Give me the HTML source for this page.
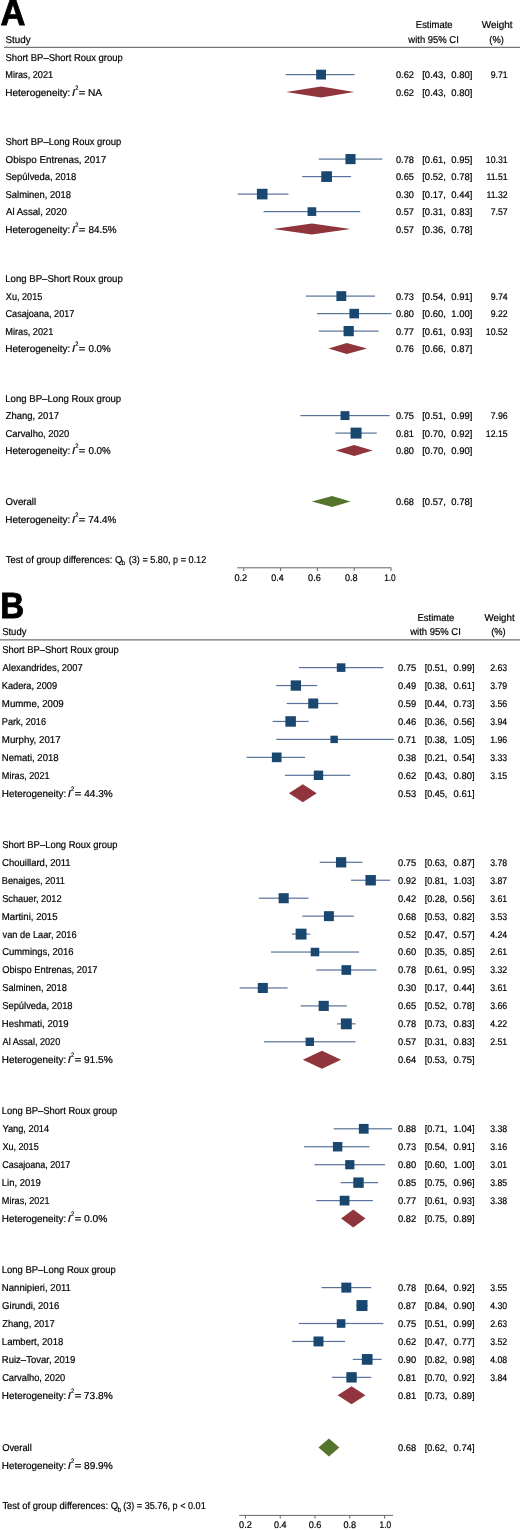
<!DOCTYPE html>
<html lang="en"><head><meta charset="utf-8"><title>Forest plots</title>
<style>
html,body{margin:0;padding:0;background:#fff;}
svg{display:block;}
text{font-family:"Liberation Sans",sans-serif;fill:#000;stroke:#000;stroke-width:0.2px;text-rendering:geometricPrecision;}
</style></head>
<body>
<svg width="520" height="1530" viewBox="0 0 520 1530" font-size="10.0">
<rect width="520" height="1530" fill="#fff"/>
<text x="0.44" y="25.00" textLength="24.93" lengthAdjust="spacingAndGlyphs" font-size="36.5" font-weight="bold" style="stroke-width:0.9px">A</text>
<text x="5.56" y="42.50" textLength="25.16" lengthAdjust="spacingAndGlyphs">Study</text>
<text x="415.84" y="28.30" textLength="36.74" lengthAdjust="spacingAndGlyphs">Estimate</text>
<text x="408.35" y="42.50" textLength="50.46" lengthAdjust="spacingAndGlyphs">with 95% CI</text>
<text x="481.80" y="28.30" textLength="30.74" lengthAdjust="spacingAndGlyphs">Weight</text>
<text x="489.34" y="42.50" textLength="14.52" lengthAdjust="spacingAndGlyphs">(%)</text>
<rect x="4.0" y="46.80" width="516.0" height="1.0" fill="#555"/>
<text x="5.57" y="60.80" textLength="117.22" lengthAdjust="spacingAndGlyphs">Short BP–Short Roux group</text>
<text x="5.27" y="78.30" textLength="47.84" lengthAdjust="spacingAndGlyphs">Miras, 2021</text>
<rect x="285.62" y="74.00" width="69.08" height="1.2" fill="#58739a"/>
<rect x="316.17" y="69.69" width="9.82" height="9.82" fill="#1a476f"/>
<text x="395.98" y="78.30" textLength="17.95" lengthAdjust="spacingAndGlyphs" font-size="9.6">0.62</text>
<text x="422.24" y="78.30" textLength="23.69" lengthAdjust="spacingAndGlyphs" font-size="9.6">[0.43,</text>
<text x="451.37" y="78.30" textLength="20.98" lengthAdjust="spacingAndGlyphs" font-size="9.6">0.80]</text>
<text x="490.66" y="78.30" textLength="17.00" lengthAdjust="spacingAndGlyphs" font-size="9.6">9.71</text>
<text x="5.20" y="95.80" textLength="65.09" lengthAdjust="spacingAndGlyphs">Heterogeneity:</text>
<text x="71.91" y="95.80" textLength="3.07" lengthAdjust="spacingAndGlyphs" font-style="italic">I</text>
<text x="75.32" y="89.70" textLength="3.14" lengthAdjust="spacingAndGlyphs" font-size="6.6">2</text>
<text x="78.89" y="95.80" textLength="6.55" lengthAdjust="spacingAndGlyphs">=</text>
<text x="87.98" y="95.80" textLength="14.16" lengthAdjust="spacingAndGlyphs">NA</text>
<polygon points="286.12,92.10 321.08,86.60 354.20,92.10 321.08,97.60" fill="#90353b"/>
<text x="395.98" y="95.80" textLength="17.95" lengthAdjust="spacingAndGlyphs" font-size="9.6">0.62</text>
<text x="422.24" y="95.80" textLength="23.69" lengthAdjust="spacingAndGlyphs" font-size="9.6">[0.43,</text>
<text x="451.37" y="95.80" textLength="20.98" lengthAdjust="spacingAndGlyphs" font-size="9.6">0.80]</text>
<text x="5.57" y="145.30" textLength="115.61" lengthAdjust="spacingAndGlyphs">Short BP–Long Roux group</text>
<text x="5.56" y="162.80" textLength="100.68" lengthAdjust="spacingAndGlyphs">Obispo Entrenas, 2017</text>
<rect x="318.74" y="158.50" width="63.56" height="1.2" fill="#58739a"/>
<rect x="345.46" y="154.04" width="10.11" height="10.11" fill="#1a476f"/>
<text x="395.98" y="162.80" textLength="17.95" lengthAdjust="spacingAndGlyphs" font-size="9.6">0.78</text>
<text x="422.24" y="162.80" textLength="23.69" lengthAdjust="spacingAndGlyphs" font-size="9.6">[0.61,</text>
<text x="451.37" y="162.80" textLength="20.98" lengthAdjust="spacingAndGlyphs" font-size="9.6">0.95]</text>
<text x="485.81" y="162.80" textLength="21.85" lengthAdjust="spacingAndGlyphs" font-size="9.6">10.31</text>
<text x="5.58" y="180.30" textLength="70.61" lengthAdjust="spacingAndGlyphs">Sepúlveda, 2018</text>
<rect x="302.18" y="176.00" width="48.84" height="1.2" fill="#58739a"/>
<rect x="321.26" y="171.26" width="10.69" height="10.69" fill="#1a476f"/>
<text x="395.98" y="180.30" textLength="17.95" lengthAdjust="spacingAndGlyphs" font-size="9.6">0.65</text>
<text x="422.24" y="180.30" textLength="23.69" lengthAdjust="spacingAndGlyphs" font-size="9.6">[0.52,</text>
<text x="451.37" y="180.30" textLength="20.98" lengthAdjust="spacingAndGlyphs" font-size="9.6">0.78]</text>
<text x="486.45" y="180.30" textLength="21.21" lengthAdjust="spacingAndGlyphs" font-size="9.6">11.51</text>
<text x="5.58" y="197.80" textLength="65.29" lengthAdjust="spacingAndGlyphs">Salminen, 2018</text>
<rect x="237.78" y="193.50" width="50.68" height="1.2" fill="#58739a"/>
<rect x="256.90" y="188.80" width="10.60" height="10.60" fill="#1a476f"/>
<text x="395.98" y="197.80" textLength="17.95" lengthAdjust="spacingAndGlyphs" font-size="9.6">0.30</text>
<text x="422.24" y="197.80" textLength="23.69" lengthAdjust="spacingAndGlyphs" font-size="9.6">[0.17,</text>
<text x="451.37" y="197.80" textLength="20.98" lengthAdjust="spacingAndGlyphs" font-size="9.6">0.44]</text>
<text x="486.45" y="197.80" textLength="21.21" lengthAdjust="spacingAndGlyphs" font-size="9.6">11.32</text>
<text x="6.00" y="215.30" textLength="60.86" lengthAdjust="spacingAndGlyphs">Al Assal, 2020</text>
<rect x="263.54" y="211.00" width="96.68" height="1.2" fill="#58739a"/>
<rect x="307.55" y="207.27" width="8.67" height="8.67" fill="#1a476f"/>
<text x="395.98" y="215.30" textLength="17.95" lengthAdjust="spacingAndGlyphs" font-size="9.6">0.57</text>
<text x="422.24" y="215.30" textLength="23.69" lengthAdjust="spacingAndGlyphs" font-size="9.6">[0.31,</text>
<text x="451.37" y="215.30" textLength="20.98" lengthAdjust="spacingAndGlyphs" font-size="9.6">0.83]</text>
<text x="490.66" y="215.30" textLength="17.00" lengthAdjust="spacingAndGlyphs" font-size="9.6">7.57</text>
<text x="5.20" y="232.80" textLength="65.09" lengthAdjust="spacingAndGlyphs">Heterogeneity:</text>
<text x="71.91" y="232.80" textLength="3.07" lengthAdjust="spacingAndGlyphs" font-style="italic">I</text>
<text x="75.32" y="226.70" textLength="3.14" lengthAdjust="spacingAndGlyphs" font-size="6.6">2</text>
<text x="78.89" y="232.80" textLength="6.55" lengthAdjust="spacingAndGlyphs">=</text>
<text x="88.40" y="232.80" textLength="28.05" lengthAdjust="spacingAndGlyphs">84.5%</text>
<polygon points="273.24,229.10 311.88,223.60 350.52,229.10 311.88,234.60" fill="#90353b"/>
<text x="395.98" y="232.80" textLength="17.95" lengthAdjust="spacingAndGlyphs" font-size="9.6">0.57</text>
<text x="422.24" y="232.80" textLength="23.69" lengthAdjust="spacingAndGlyphs" font-size="9.6">[0.36,</text>
<text x="451.37" y="232.80" textLength="20.98" lengthAdjust="spacingAndGlyphs" font-size="9.6">0.78]</text>
<text x="5.23" y="282.30" textLength="117.56" lengthAdjust="spacingAndGlyphs">Long BP–Short Roux group</text>
<text x="5.82" y="299.80" textLength="36.48" lengthAdjust="spacingAndGlyphs">Xu, 2015</text>
<rect x="305.86" y="295.50" width="69.08" height="1.2" fill="#58739a"/>
<rect x="336.40" y="291.18" width="9.83" height="9.83" fill="#1a476f"/>
<text x="395.98" y="299.80" textLength="17.95" lengthAdjust="spacingAndGlyphs" font-size="9.6">0.73</text>
<text x="422.24" y="299.80" textLength="23.69" lengthAdjust="spacingAndGlyphs" font-size="9.6">[0.54,</text>
<text x="451.37" y="299.80" textLength="20.98" lengthAdjust="spacingAndGlyphs" font-size="9.6">0.91]</text>
<text x="490.66" y="299.80" textLength="17.00" lengthAdjust="spacingAndGlyphs" font-size="9.6">9.74</text>
<text x="5.55" y="317.30" textLength="68.78" lengthAdjust="spacingAndGlyphs">Casajoana, 2017</text>
<rect x="316.90" y="313.00" width="74.60" height="1.2" fill="#58739a"/>
<rect x="349.42" y="308.82" width="9.56" height="9.56" fill="#1a476f"/>
<text x="395.98" y="317.30" textLength="17.95" lengthAdjust="spacingAndGlyphs" font-size="9.6">0.80</text>
<text x="422.24" y="317.30" textLength="23.69" lengthAdjust="spacingAndGlyphs" font-size="9.6">[0.60,</text>
<text x="451.37" y="317.30" textLength="20.98" lengthAdjust="spacingAndGlyphs" font-size="9.6">1.00]</text>
<text x="490.66" y="317.30" textLength="17.00" lengthAdjust="spacingAndGlyphs" font-size="9.6">9.22</text>
<text x="5.26" y="334.80" textLength="48.05" lengthAdjust="spacingAndGlyphs">Miras, 2021</text>
<rect x="318.74" y="330.50" width="59.88" height="1.2" fill="#58739a"/>
<rect x="343.57" y="325.99" width="10.22" height="10.22" fill="#1a476f"/>
<text x="395.98" y="334.80" textLength="17.95" lengthAdjust="spacingAndGlyphs" font-size="9.6">0.77</text>
<text x="422.24" y="334.80" textLength="23.69" lengthAdjust="spacingAndGlyphs" font-size="9.6">[0.61,</text>
<text x="451.37" y="334.80" textLength="20.98" lengthAdjust="spacingAndGlyphs" font-size="9.6">0.93]</text>
<text x="485.81" y="334.80" textLength="21.85" lengthAdjust="spacingAndGlyphs" font-size="9.6">10.52</text>
<text x="5.20" y="352.30" textLength="65.09" lengthAdjust="spacingAndGlyphs">Heterogeneity:</text>
<text x="71.91" y="352.30" textLength="3.07" lengthAdjust="spacingAndGlyphs" font-style="italic">I</text>
<text x="75.32" y="346.20" textLength="3.14" lengthAdjust="spacingAndGlyphs" font-size="6.6">2</text>
<text x="78.89" y="352.30" textLength="6.55" lengthAdjust="spacingAndGlyphs">=</text>
<text x="88.46" y="352.30" textLength="22.28" lengthAdjust="spacingAndGlyphs">0.0%</text>
<polygon points="328.44,348.60 346.84,343.10 367.08,348.60 346.84,354.10" fill="#90353b"/>
<text x="395.98" y="352.30" textLength="17.95" lengthAdjust="spacingAndGlyphs" font-size="9.6">0.76</text>
<text x="422.24" y="352.30" textLength="23.69" lengthAdjust="spacingAndGlyphs" font-size="9.6">[0.66,</text>
<text x="451.37" y="352.30" textLength="20.98" lengthAdjust="spacingAndGlyphs" font-size="9.6">0.87]</text>
<text x="5.23" y="401.80" textLength="115.96" lengthAdjust="spacingAndGlyphs">Long BP–Long Roux group</text>
<text x="5.72" y="419.30" textLength="53.22" lengthAdjust="spacingAndGlyphs">Zhang, 2017</text>
<rect x="300.34" y="415.00" width="89.32" height="1.2" fill="#58739a"/>
<rect x="340.56" y="411.16" width="8.89" height="8.89" fill="#1a476f"/>
<text x="395.98" y="419.30" textLength="17.95" lengthAdjust="spacingAndGlyphs" font-size="9.6">0.75</text>
<text x="422.24" y="419.30" textLength="23.69" lengthAdjust="spacingAndGlyphs" font-size="9.6">[0.51,</text>
<text x="451.37" y="419.30" textLength="20.98" lengthAdjust="spacingAndGlyphs" font-size="9.6">0.99]</text>
<text x="490.66" y="419.30" textLength="17.00" lengthAdjust="spacingAndGlyphs" font-size="9.6">7.96</text>
<text x="5.53" y="436.80" textLength="63.72" lengthAdjust="spacingAndGlyphs">Carvalho, 2020</text>
<rect x="335.30" y="432.50" width="41.48" height="1.2" fill="#58739a"/>
<rect x="350.55" y="427.61" width="10.98" height="10.98" fill="#1a476f"/>
<text x="395.98" y="436.80" textLength="17.95" lengthAdjust="spacingAndGlyphs" font-size="9.6">0.81</text>
<text x="422.24" y="436.80" textLength="23.69" lengthAdjust="spacingAndGlyphs" font-size="9.6">[0.70,</text>
<text x="451.37" y="436.80" textLength="20.98" lengthAdjust="spacingAndGlyphs" font-size="9.6">0.92]</text>
<text x="485.81" y="436.80" textLength="21.85" lengthAdjust="spacingAndGlyphs" font-size="9.6">12.15</text>
<text x="5.20" y="454.30" textLength="65.09" lengthAdjust="spacingAndGlyphs">Heterogeneity:</text>
<text x="71.91" y="454.30" textLength="3.07" lengthAdjust="spacingAndGlyphs" font-style="italic">I</text>
<text x="75.32" y="448.20" textLength="3.14" lengthAdjust="spacingAndGlyphs" font-size="6.6">2</text>
<text x="78.89" y="454.30" textLength="6.55" lengthAdjust="spacingAndGlyphs">=</text>
<text x="88.46" y="454.30" textLength="22.28" lengthAdjust="spacingAndGlyphs">0.0%</text>
<polygon points="335.80,450.60 354.20,445.10 372.60,450.60 354.20,456.10" fill="#90353b"/>
<text x="395.98" y="454.30" textLength="17.95" lengthAdjust="spacingAndGlyphs" font-size="9.6">0.80</text>
<text x="422.24" y="454.30" textLength="23.69" lengthAdjust="spacingAndGlyphs" font-size="9.6">[0.70,</text>
<text x="451.37" y="454.30" textLength="20.98" lengthAdjust="spacingAndGlyphs" font-size="9.6">0.90]</text>
<text x="5.57" y="505.20" textLength="30.54" lengthAdjust="spacingAndGlyphs">Overall</text>
<polygon points="311.88,501.50 332.12,496.00 350.52,501.50 332.12,507.00" fill="#55752f"/>
<text x="395.98" y="505.20" textLength="17.95" lengthAdjust="spacingAndGlyphs" font-size="9.6">0.68</text>
<text x="422.24" y="505.20" textLength="23.69" lengthAdjust="spacingAndGlyphs" font-size="9.6">[0.57,</text>
<text x="451.37" y="505.20" textLength="20.98" lengthAdjust="spacingAndGlyphs" font-size="9.6">0.78]</text>
<text x="5.20" y="522.70" textLength="65.09" lengthAdjust="spacingAndGlyphs">Heterogeneity:</text>
<text x="71.91" y="522.70" textLength="3.07" lengthAdjust="spacingAndGlyphs" font-style="italic">I</text>
<text x="75.32" y="516.60" textLength="3.14" lengthAdjust="spacingAndGlyphs" font-size="6.6">2</text>
<text x="78.89" y="522.70" textLength="6.55" lengthAdjust="spacingAndGlyphs">=</text>
<text x="88.30" y="522.70" textLength="28.15" lengthAdjust="spacingAndGlyphs">74.4%</text>
<text x="5.81" y="562.70" textLength="116.53" lengthAdjust="spacingAndGlyphs">Test of group differences: Q</text>
<text x="121.60" y="565.30" textLength="3.67" lengthAdjust="spacingAndGlyphs" font-size="7.0">b</text>
<text x="128.75" y="562.70" textLength="77.46" lengthAdjust="spacingAndGlyphs">(3) = 5.80, p = 0.12</text>
<rect x="237.10" y="567.30" width="154.20" height="1" fill="#666"/>
<rect x="243.30" y="567.80" width="1" height="3.2" fill="#666"/>
<text x="234.48" y="580.60" textLength="12.73" lengthAdjust="spacingAndGlyphs" font-size="9.6">0.2</text>
<rect x="280.10" y="567.80" width="1" height="3.2" fill="#666"/>
<text x="271.28" y="580.60" textLength="12.54" lengthAdjust="spacingAndGlyphs" font-size="9.6">0.4</text>
<rect x="316.90" y="567.80" width="1" height="3.2" fill="#666"/>
<text x="308.08" y="580.60" textLength="12.69" lengthAdjust="spacingAndGlyphs" font-size="9.6">0.6</text>
<rect x="353.70" y="567.80" width="1" height="3.2" fill="#666"/>
<text x="344.88" y="580.60" textLength="12.69" lengthAdjust="spacingAndGlyphs" font-size="9.6">0.8</text>
<rect x="390.50" y="567.80" width="1" height="3.2" fill="#666"/>
<text x="384.18" y="580.60" textLength="11.51" lengthAdjust="spacingAndGlyphs" font-size="9.6">1.0</text>
<text x="0.14" y="617.50" textLength="23.96" lengthAdjust="spacingAndGlyphs" font-size="36.5" font-weight="bold" style="stroke-width:0.9px">B</text>
<text x="2.17" y="634.60" textLength="24.25" lengthAdjust="spacingAndGlyphs">Study</text>
<text x="417.44" y="620.70" textLength="36.94" lengthAdjust="spacingAndGlyphs">Estimate</text>
<text x="410.25" y="635.00" textLength="50.56" lengthAdjust="spacingAndGlyphs">with 95% CI</text>
<text x="484.50" y="620.70" textLength="30.14" lengthAdjust="spacingAndGlyphs">Weight</text>
<text x="491.14" y="635.00" textLength="14.63" lengthAdjust="spacingAndGlyphs">(%)</text>
<rect x="0" y="639.10" width="520" height="1.5" fill="#8a8a8a"/>
<text x="2.18" y="653.05" textLength="116.61" lengthAdjust="spacingAndGlyphs">Short BP–Short Roux group</text>
<text x="2.60" y="671.00" textLength="80.04" lengthAdjust="spacingAndGlyphs">Alexandrides, 2007</text>
<rect x="298.84" y="667.00" width="84.52" height="1.2" fill="#58739a"/>
<rect x="336.80" y="663.30" width="8.60" height="8.60" fill="#1a476f"/>
<text x="397.97" y="671.00" textLength="18.16" lengthAdjust="spacingAndGlyphs" font-size="9.6">0.75</text>
<text x="424.67" y="671.00" textLength="22.62" lengthAdjust="spacingAndGlyphs" font-size="9.6">[0.51,</text>
<text x="453.57" y="671.00" textLength="20.98" lengthAdjust="spacingAndGlyphs" font-size="9.6">0.99]</text>
<text x="490.16" y="671.00" textLength="17.00" lengthAdjust="spacingAndGlyphs" font-size="9.6">2.63</text>
<text x="1.87" y="688.95" textLength="55.15" lengthAdjust="spacingAndGlyphs">Kadera, 2009</text>
<rect x="276.22" y="684.95" width="41.02" height="1.2" fill="#58739a"/>
<rect x="290.70" y="680.39" width="10.32" height="10.32" fill="#1a476f"/>
<text x="397.97" y="688.95" textLength="18.16" lengthAdjust="spacingAndGlyphs" font-size="9.6">0.49</text>
<text x="424.67" y="688.95" textLength="22.62" lengthAdjust="spacingAndGlyphs" font-size="9.6">[0.38,</text>
<text x="453.57" y="688.95" textLength="20.98" lengthAdjust="spacingAndGlyphs" font-size="9.6">0.61]</text>
<text x="490.16" y="688.95" textLength="17.00" lengthAdjust="spacingAndGlyphs" font-size="9.6">3.79</text>
<text x="1.83" y="706.90" textLength="61.83" lengthAdjust="spacingAndGlyphs">Mumme, 2009</text>
<rect x="286.66" y="702.90" width="51.46" height="1.2" fill="#58739a"/>
<rect x="308.26" y="698.50" width="10.00" height="10.00" fill="#1a476f"/>
<text x="397.97" y="706.90" textLength="18.16" lengthAdjust="spacingAndGlyphs" font-size="9.6">0.59</text>
<text x="424.67" y="706.90" textLength="22.62" lengthAdjust="spacingAndGlyphs" font-size="9.6">[0.44,</text>
<text x="453.57" y="706.90" textLength="20.98" lengthAdjust="spacingAndGlyphs" font-size="9.6">0.73]</text>
<text x="490.16" y="706.90" textLength="17.00" lengthAdjust="spacingAndGlyphs" font-size="9.6">3.56</text>
<text x="1.87" y="724.85" textLength="44.11" lengthAdjust="spacingAndGlyphs">Park, 2016</text>
<rect x="272.74" y="720.85" width="35.80" height="1.2" fill="#58739a"/>
<rect x="285.38" y="716.19" width="10.52" height="10.52" fill="#1a476f"/>
<text x="397.97" y="724.85" textLength="18.16" lengthAdjust="spacingAndGlyphs" font-size="9.6">0.46</text>
<text x="424.67" y="724.85" textLength="22.62" lengthAdjust="spacingAndGlyphs" font-size="9.6">[0.36,</text>
<text x="453.57" y="724.85" textLength="20.98" lengthAdjust="spacingAndGlyphs" font-size="9.6">0.56]</text>
<text x="490.16" y="724.85" textLength="17.00" lengthAdjust="spacingAndGlyphs" font-size="9.6">3.94</text>
<text x="1.82" y="742.80" textLength="58.82" lengthAdjust="spacingAndGlyphs">Murphy, 2017</text>
<rect x="276.22" y="738.80" width="117.58" height="1.2" fill="#58739a"/>
<rect x="330.43" y="735.69" width="7.42" height="7.42" fill="#1a476f"/>
<text x="397.97" y="742.80" textLength="18.16" lengthAdjust="spacingAndGlyphs" font-size="9.6">0.71</text>
<text x="424.67" y="742.80" textLength="22.62" lengthAdjust="spacingAndGlyphs" font-size="9.6">[0.38,</text>
<text x="453.57" y="742.80" textLength="20.98" lengthAdjust="spacingAndGlyphs" font-size="9.6">1.05]</text>
<text x="490.16" y="742.80" textLength="17.00" lengthAdjust="spacingAndGlyphs" font-size="9.6">1.96</text>
<text x="1.84" y="760.75" textLength="56.77" lengthAdjust="spacingAndGlyphs">Nemati, 2018</text>
<rect x="246.64" y="756.75" width="58.42" height="1.2" fill="#58739a"/>
<rect x="271.88" y="752.51" width="9.67" height="9.67" fill="#1a476f"/>
<text x="397.97" y="760.75" textLength="18.16" lengthAdjust="spacingAndGlyphs" font-size="9.6">0.38</text>
<text x="424.67" y="760.75" textLength="22.62" lengthAdjust="spacingAndGlyphs" font-size="9.6">[0.21,</text>
<text x="453.57" y="760.75" textLength="20.98" lengthAdjust="spacingAndGlyphs" font-size="9.6">0.54]</text>
<text x="490.16" y="760.75" textLength="17.00" lengthAdjust="spacingAndGlyphs" font-size="9.6">3.33</text>
<text x="1.87" y="778.70" textLength="47.74" lengthAdjust="spacingAndGlyphs">Miras, 2021</text>
<rect x="284.92" y="774.70" width="65.38" height="1.2" fill="#58739a"/>
<rect x="313.78" y="770.60" width="9.41" height="9.41" fill="#1a476f"/>
<text x="397.97" y="778.70" textLength="18.16" lengthAdjust="spacingAndGlyphs" font-size="9.6">0.62</text>
<text x="424.67" y="778.70" textLength="22.62" lengthAdjust="spacingAndGlyphs" font-size="9.6">[0.43,</text>
<text x="453.57" y="778.70" textLength="20.98" lengthAdjust="spacingAndGlyphs" font-size="9.6">0.80]</text>
<text x="490.16" y="778.70" textLength="17.00" lengthAdjust="spacingAndGlyphs" font-size="9.6">3.15</text>
<text x="1.81" y="796.65" textLength="64.48" lengthAdjust="spacingAndGlyphs">Heterogeneity:</text>
<text x="67.71" y="796.65" textLength="3.07" lengthAdjust="spacingAndGlyphs" font-style="italic">I</text>
<text x="71.12" y="790.55" textLength="3.14" lengthAdjust="spacingAndGlyphs" font-size="6.6">2</text>
<text x="74.89" y="796.65" textLength="6.55" lengthAdjust="spacingAndGlyphs">=</text>
<text x="84.20" y="796.65" textLength="28.56" lengthAdjust="spacingAndGlyphs">44.3%</text>
<polygon points="288.90,793.25 302.82,784.25 316.74,793.25 302.82,802.25" fill="#90353b"/>
<text x="397.97" y="796.65" textLength="18.16" lengthAdjust="spacingAndGlyphs" font-size="9.6">0.53</text>
<text x="424.67" y="796.65" textLength="22.62" lengthAdjust="spacingAndGlyphs" font-size="9.6">[0.45,</text>
<text x="453.57" y="796.65" textLength="20.98" lengthAdjust="spacingAndGlyphs" font-size="9.6">0.61]</text>
<text x="2.18" y="847.75" textLength="115.31" lengthAdjust="spacingAndGlyphs">Short BP–Long Roux group</text>
<text x="2.12" y="865.70" textLength="68.49" lengthAdjust="spacingAndGlyphs">Chouillard, 2011</text>
<rect x="319.72" y="861.70" width="42.76" height="1.2" fill="#58739a"/>
<rect x="335.95" y="857.15" width="10.30" height="10.30" fill="#1a476f"/>
<text x="397.97" y="865.70" textLength="18.16" lengthAdjust="spacingAndGlyphs" font-size="9.6">0.75</text>
<text x="424.67" y="865.70" textLength="22.62" lengthAdjust="spacingAndGlyphs" font-size="9.6">[0.63,</text>
<text x="453.57" y="865.70" textLength="20.98" lengthAdjust="spacingAndGlyphs" font-size="9.6">0.87]</text>
<text x="490.16" y="865.70" textLength="17.00" lengthAdjust="spacingAndGlyphs" font-size="9.6">3.78</text>
<text x="1.87" y="883.65" textLength="63.06" lengthAdjust="spacingAndGlyphs">Benaiges, 2011</text>
<rect x="351.04" y="879.65" width="39.28" height="1.2" fill="#58739a"/>
<rect x="365.47" y="875.04" width="10.43" height="10.43" fill="#1a476f"/>
<text x="397.97" y="883.65" textLength="18.16" lengthAdjust="spacingAndGlyphs" font-size="9.6">0.92</text>
<text x="424.67" y="883.65" textLength="22.62" lengthAdjust="spacingAndGlyphs" font-size="9.6">[0.81,</text>
<text x="453.57" y="883.65" textLength="20.98" lengthAdjust="spacingAndGlyphs" font-size="9.6">1.03]</text>
<text x="490.16" y="883.65" textLength="17.00" lengthAdjust="spacingAndGlyphs" font-size="9.6">3.87</text>
<text x="2.19" y="901.60" textLength="59.43" lengthAdjust="spacingAndGlyphs">Schauer, 2012</text>
<rect x="258.82" y="897.60" width="49.72" height="1.2" fill="#58739a"/>
<rect x="278.64" y="893.17" width="10.07" height="10.07" fill="#1a476f"/>
<text x="397.97" y="901.60" textLength="18.16" lengthAdjust="spacingAndGlyphs" font-size="9.6">0.42</text>
<text x="424.67" y="901.60" textLength="22.62" lengthAdjust="spacingAndGlyphs" font-size="9.6">[0.28,</text>
<text x="453.57" y="901.60" textLength="20.98" lengthAdjust="spacingAndGlyphs" font-size="9.6">0.56]</text>
<text x="490.16" y="901.60" textLength="17.00" lengthAdjust="spacingAndGlyphs" font-size="9.6">3.61</text>
<text x="1.83" y="919.55" textLength="55.77" lengthAdjust="spacingAndGlyphs">Martini, 2015</text>
<rect x="302.32" y="915.55" width="51.46" height="1.2" fill="#58739a"/>
<rect x="323.94" y="911.17" width="9.96" height="9.96" fill="#1a476f"/>
<text x="397.97" y="919.55" textLength="18.16" lengthAdjust="spacingAndGlyphs" font-size="9.6">0.68</text>
<text x="424.67" y="919.55" textLength="22.62" lengthAdjust="spacingAndGlyphs" font-size="9.6">[0.53,</text>
<text x="453.57" y="919.55" textLength="20.98" lengthAdjust="spacingAndGlyphs" font-size="9.6">0.82]</text>
<text x="490.16" y="919.55" textLength="17.00" lengthAdjust="spacingAndGlyphs" font-size="9.6">3.53</text>
<text x="2.60" y="937.50" textLength="73.99" lengthAdjust="spacingAndGlyphs">van de Laar, 2016</text>
<rect x="291.88" y="933.50" width="18.40" height="1.2" fill="#58739a"/>
<rect x="295.62" y="928.64" width="10.91" height="10.91" fill="#1a476f"/>
<text x="397.97" y="937.50" textLength="18.16" lengthAdjust="spacingAndGlyphs" font-size="9.6">0.52</text>
<text x="424.67" y="937.50" textLength="22.62" lengthAdjust="spacingAndGlyphs" font-size="9.6">[0.47,</text>
<text x="453.57" y="937.50" textLength="20.98" lengthAdjust="spacingAndGlyphs" font-size="9.6">0.57]</text>
<text x="490.16" y="937.50" textLength="17.00" lengthAdjust="spacingAndGlyphs" font-size="9.6">4.24</text>
<text x="2.13" y="955.45" textLength="71.44" lengthAdjust="spacingAndGlyphs">Cummings, 2016</text>
<rect x="271.00" y="951.45" width="88.00" height="1.2" fill="#58739a"/>
<rect x="310.72" y="947.77" width="8.56" height="8.56" fill="#1a476f"/>
<text x="397.97" y="955.45" textLength="18.16" lengthAdjust="spacingAndGlyphs" font-size="9.6">0.60</text>
<text x="424.67" y="955.45" textLength="22.62" lengthAdjust="spacingAndGlyphs" font-size="9.6">[0.35,</text>
<text x="453.57" y="955.45" textLength="20.98" lengthAdjust="spacingAndGlyphs" font-size="9.6">0.85]</text>
<text x="490.16" y="955.45" textLength="17.00" lengthAdjust="spacingAndGlyphs" font-size="9.6">2.61</text>
<text x="2.18" y="973.40" textLength="95.33" lengthAdjust="spacingAndGlyphs">Obispo Entrenas, 2017</text>
<rect x="316.24" y="969.40" width="60.16" height="1.2" fill="#58739a"/>
<rect x="341.49" y="965.17" width="9.66" height="9.66" fill="#1a476f"/>
<text x="397.97" y="973.40" textLength="18.16" lengthAdjust="spacingAndGlyphs" font-size="9.6">0.78</text>
<text x="424.67" y="973.40" textLength="22.62" lengthAdjust="spacingAndGlyphs" font-size="9.6">[0.61,</text>
<text x="453.57" y="973.40" textLength="20.98" lengthAdjust="spacingAndGlyphs" font-size="9.6">0.95]</text>
<text x="490.16" y="973.40" textLength="17.00" lengthAdjust="spacingAndGlyphs" font-size="9.6">3.32</text>
<text x="2.18" y="991.35" textLength="64.69" lengthAdjust="spacingAndGlyphs">Salminen, 2018</text>
<rect x="239.68" y="987.35" width="47.98" height="1.2" fill="#58739a"/>
<rect x="257.76" y="982.92" width="10.07" height="10.07" fill="#1a476f"/>
<text x="397.97" y="991.35" textLength="18.16" lengthAdjust="spacingAndGlyphs" font-size="9.6">0.30</text>
<text x="424.67" y="991.35" textLength="22.62" lengthAdjust="spacingAndGlyphs" font-size="9.6">[0.17,</text>
<text x="453.57" y="991.35" textLength="20.98" lengthAdjust="spacingAndGlyphs" font-size="9.6">0.44]</text>
<text x="490.16" y="991.35" textLength="17.00" lengthAdjust="spacingAndGlyphs" font-size="9.6">3.61</text>
<text x="2.18" y="1009.30" textLength="70.41" lengthAdjust="spacingAndGlyphs">Sepúlveda, 2018</text>
<rect x="300.58" y="1005.30" width="46.24" height="1.2" fill="#58739a"/>
<rect x="318.63" y="1000.83" width="10.14" height="10.14" fill="#1a476f"/>
<text x="397.97" y="1009.30" textLength="18.16" lengthAdjust="spacingAndGlyphs" font-size="9.6">0.65</text>
<text x="424.67" y="1009.30" textLength="22.62" lengthAdjust="spacingAndGlyphs" font-size="9.6">[0.52,</text>
<text x="453.57" y="1009.30" textLength="20.98" lengthAdjust="spacingAndGlyphs" font-size="9.6">0.78]</text>
<text x="490.16" y="1009.30" textLength="17.00" lengthAdjust="spacingAndGlyphs" font-size="9.6">3.66</text>
<text x="1.84" y="1027.25" textLength="66.78" lengthAdjust="spacingAndGlyphs">Heshmati, 2019</text>
<rect x="337.12" y="1023.25" width="18.40" height="1.2" fill="#58739a"/>
<rect x="340.88" y="1018.41" width="10.89" height="10.89" fill="#1a476f"/>
<text x="397.97" y="1027.25" textLength="18.16" lengthAdjust="spacingAndGlyphs" font-size="9.6">0.78</text>
<text x="424.67" y="1027.25" textLength="22.62" lengthAdjust="spacingAndGlyphs" font-size="9.6">[0.73,</text>
<text x="453.57" y="1027.25" textLength="20.98" lengthAdjust="spacingAndGlyphs" font-size="9.6">0.83]</text>
<text x="490.16" y="1027.25" textLength="17.00" lengthAdjust="spacingAndGlyphs" font-size="9.6">4.22</text>
<text x="2.60" y="1045.20" textLength="57.64" lengthAdjust="spacingAndGlyphs">Al Assal, 2020</text>
<rect x="264.04" y="1041.20" width="91.48" height="1.2" fill="#58739a"/>
<rect x="305.58" y="1037.60" width="8.40" height="8.40" fill="#1a476f"/>
<text x="397.97" y="1045.20" textLength="18.16" lengthAdjust="spacingAndGlyphs" font-size="9.6">0.57</text>
<text x="424.67" y="1045.20" textLength="22.62" lengthAdjust="spacingAndGlyphs" font-size="9.6">[0.31,</text>
<text x="453.57" y="1045.20" textLength="20.98" lengthAdjust="spacingAndGlyphs" font-size="9.6">0.83]</text>
<text x="490.16" y="1045.20" textLength="17.00" lengthAdjust="spacingAndGlyphs" font-size="9.6">2.51</text>
<text x="1.81" y="1063.15" textLength="64.48" lengthAdjust="spacingAndGlyphs">Heterogeneity:</text>
<text x="67.71" y="1063.15" textLength="3.07" lengthAdjust="spacingAndGlyphs" font-style="italic">I</text>
<text x="71.12" y="1057.05" textLength="3.14" lengthAdjust="spacingAndGlyphs" font-size="6.6">2</text>
<text x="74.89" y="1063.15" textLength="6.55" lengthAdjust="spacingAndGlyphs">=</text>
<text x="83.94" y="1063.15" textLength="28.82" lengthAdjust="spacingAndGlyphs">91.5%</text>
<polygon points="302.82,1059.75 321.96,1050.75 341.10,1059.75 321.96,1068.75" fill="#90353b"/>
<text x="397.97" y="1063.15" textLength="18.16" lengthAdjust="spacingAndGlyphs" font-size="9.6">0.64</text>
<text x="424.67" y="1063.15" textLength="22.62" lengthAdjust="spacingAndGlyphs" font-size="9.6">[0.53,</text>
<text x="453.57" y="1063.15" textLength="20.98" lengthAdjust="spacingAndGlyphs" font-size="9.6">0.75]</text>
<text x="1.85" y="1114.25" textLength="115.34" lengthAdjust="spacingAndGlyphs">Long BP–Short Roux group</text>
<text x="2.41" y="1132.20" textLength="46.73" lengthAdjust="spacingAndGlyphs">Yang, 2014</text>
<rect x="333.64" y="1128.20" width="58.42" height="1.2" fill="#58739a"/>
<rect x="358.85" y="1123.93" width="9.74" height="9.74" fill="#1a476f"/>
<text x="397.97" y="1132.20" textLength="18.16" lengthAdjust="spacingAndGlyphs" font-size="9.6">0.88</text>
<text x="424.67" y="1132.20" textLength="22.62" lengthAdjust="spacingAndGlyphs" font-size="9.6">[0.71,</text>
<text x="453.57" y="1132.20" textLength="20.98" lengthAdjust="spacingAndGlyphs" font-size="9.6">1.04]</text>
<text x="490.16" y="1132.20" textLength="17.00" lengthAdjust="spacingAndGlyphs" font-size="9.6">3.38</text>
<text x="2.42" y="1150.15" textLength="36.28" lengthAdjust="spacingAndGlyphs">Xu, 2015</text>
<rect x="304.06" y="1146.15" width="65.38" height="1.2" fill="#58739a"/>
<rect x="332.91" y="1142.04" width="9.42" height="9.42" fill="#1a476f"/>
<text x="397.97" y="1150.15" textLength="18.16" lengthAdjust="spacingAndGlyphs" font-size="9.6">0.73</text>
<text x="424.67" y="1150.15" textLength="22.62" lengthAdjust="spacingAndGlyphs" font-size="9.6">[0.54,</text>
<text x="453.57" y="1150.15" textLength="20.98" lengthAdjust="spacingAndGlyphs" font-size="9.6">0.91]</text>
<text x="490.16" y="1150.15" textLength="17.00" lengthAdjust="spacingAndGlyphs" font-size="9.6">3.16</text>
<text x="2.15" y="1168.10" textLength="68.17" lengthAdjust="spacingAndGlyphs">Casajoana, 2017</text>
<rect x="314.50" y="1164.10" width="70.60" height="1.2" fill="#58739a"/>
<rect x="345.20" y="1160.10" width="9.20" height="9.20" fill="#1a476f"/>
<text x="397.97" y="1168.10" textLength="18.16" lengthAdjust="spacingAndGlyphs" font-size="9.6">0.80</text>
<text x="424.67" y="1168.10" textLength="22.62" lengthAdjust="spacingAndGlyphs" font-size="9.6">[0.60,</text>
<text x="453.57" y="1168.10" textLength="20.98" lengthAdjust="spacingAndGlyphs" font-size="9.6">1.00]</text>
<text x="490.16" y="1168.10" textLength="17.00" lengthAdjust="spacingAndGlyphs" font-size="9.6">3.01</text>
<text x="1.84" y="1186.05" textLength="38.88" lengthAdjust="spacingAndGlyphs">Lin, 2019</text>
<rect x="340.60" y="1182.05" width="37.54" height="1.2" fill="#58739a"/>
<rect x="353.30" y="1177.45" width="10.40" height="10.40" fill="#1a476f"/>
<text x="397.97" y="1186.05" textLength="18.16" lengthAdjust="spacingAndGlyphs" font-size="9.6">0.85</text>
<text x="424.67" y="1186.05" textLength="22.62" lengthAdjust="spacingAndGlyphs" font-size="9.6">[0.75,</text>
<text x="453.57" y="1186.05" textLength="20.98" lengthAdjust="spacingAndGlyphs" font-size="9.6">0.96]</text>
<text x="490.16" y="1186.05" textLength="17.00" lengthAdjust="spacingAndGlyphs" font-size="9.6">3.85</text>
<text x="1.87" y="1204.00" textLength="47.74" lengthAdjust="spacingAndGlyphs">Miras, 2021</text>
<rect x="316.24" y="1200.00" width="56.68" height="1.2" fill="#58739a"/>
<rect x="339.71" y="1195.73" width="9.74" height="9.74" fill="#1a476f"/>
<text x="397.97" y="1204.00" textLength="18.16" lengthAdjust="spacingAndGlyphs" font-size="9.6">0.77</text>
<text x="424.67" y="1204.00" textLength="22.62" lengthAdjust="spacingAndGlyphs" font-size="9.6">[0.61,</text>
<text x="453.57" y="1204.00" textLength="20.98" lengthAdjust="spacingAndGlyphs" font-size="9.6">0.93]</text>
<text x="490.16" y="1204.00" textLength="17.00" lengthAdjust="spacingAndGlyphs" font-size="9.6">3.38</text>
<text x="1.81" y="1221.95" textLength="64.48" lengthAdjust="spacingAndGlyphs">Heterogeneity:</text>
<text x="67.71" y="1221.95" textLength="3.07" lengthAdjust="spacingAndGlyphs" font-style="italic">I</text>
<text x="71.12" y="1215.85" textLength="3.14" lengthAdjust="spacingAndGlyphs" font-size="6.6">2</text>
<text x="74.89" y="1221.95" textLength="6.55" lengthAdjust="spacingAndGlyphs">=</text>
<text x="84.04" y="1221.95" textLength="23.41" lengthAdjust="spacingAndGlyphs">0.0%</text>
<polygon points="341.10,1218.55 353.28,1209.55 365.46,1218.55 353.28,1227.55" fill="#90353b"/>
<text x="397.97" y="1221.95" textLength="18.16" lengthAdjust="spacingAndGlyphs" font-size="9.6">0.82</text>
<text x="424.67" y="1221.95" textLength="22.62" lengthAdjust="spacingAndGlyphs" font-size="9.6">[0.75,</text>
<text x="453.57" y="1221.95" textLength="20.98" lengthAdjust="spacingAndGlyphs" font-size="9.6">0.89]</text>
<text x="1.84" y="1273.05" textLength="113.94" lengthAdjust="spacingAndGlyphs">Long BP–Long Roux group</text>
<text x="1.83" y="1291.00" textLength="69.09" lengthAdjust="spacingAndGlyphs">Nannipieri, 2011</text>
<rect x="321.46" y="1287.00" width="49.72" height="1.2" fill="#58739a"/>
<rect x="341.33" y="1282.61" width="9.99" height="9.99" fill="#1a476f"/>
<text x="397.97" y="1291.00" textLength="18.16" lengthAdjust="spacingAndGlyphs" font-size="9.6">0.78</text>
<text x="424.67" y="1291.00" textLength="22.62" lengthAdjust="spacingAndGlyphs" font-size="9.6">[0.64,</text>
<text x="453.57" y="1291.00" textLength="20.98" lengthAdjust="spacingAndGlyphs" font-size="9.6">0.92]</text>
<text x="490.16" y="1291.00" textLength="17.00" lengthAdjust="spacingAndGlyphs" font-size="9.6">3.55</text>
<text x="2.12" y="1308.95" textLength="57.15" lengthAdjust="spacingAndGlyphs">Girundi, 2016</text>
<rect x="356.26" y="1304.95" width="11.44" height="1.2" fill="#58739a"/>
<rect x="356.48" y="1300.05" width="10.99" height="10.99" fill="#1a476f"/>
<text x="397.97" y="1308.95" textLength="18.16" lengthAdjust="spacingAndGlyphs" font-size="9.6">0.87</text>
<text x="424.67" y="1308.95" textLength="22.62" lengthAdjust="spacingAndGlyphs" font-size="9.6">[0.84,</text>
<text x="453.57" y="1308.95" textLength="20.98" lengthAdjust="spacingAndGlyphs" font-size="9.6">0.90]</text>
<text x="490.16" y="1308.95" textLength="17.00" lengthAdjust="spacingAndGlyphs" font-size="9.6">4.30</text>
<text x="2.32" y="1326.90" textLength="52.31" lengthAdjust="spacingAndGlyphs">Zhang, 2017</text>
<rect x="298.84" y="1322.90" width="84.52" height="1.2" fill="#58739a"/>
<rect x="336.80" y="1319.20" width="8.60" height="8.60" fill="#1a476f"/>
<text x="397.97" y="1326.90" textLength="18.16" lengthAdjust="spacingAndGlyphs" font-size="9.6">0.75</text>
<text x="424.67" y="1326.90" textLength="22.62" lengthAdjust="spacingAndGlyphs" font-size="9.6">[0.51,</text>
<text x="453.57" y="1326.90" textLength="20.98" lengthAdjust="spacingAndGlyphs" font-size="9.6">0.99]</text>
<text x="490.16" y="1326.90" textLength="17.00" lengthAdjust="spacingAndGlyphs" font-size="9.6">2.63</text>
<text x="1.84" y="1344.85" textLength="61.43" lengthAdjust="spacingAndGlyphs">Lambert, 2018</text>
<rect x="291.88" y="1340.85" width="53.20" height="1.2" fill="#58739a"/>
<rect x="313.51" y="1336.48" width="9.94" height="9.94" fill="#1a476f"/>
<text x="397.97" y="1344.85" textLength="18.16" lengthAdjust="spacingAndGlyphs" font-size="9.6">0.62</text>
<text x="424.67" y="1344.85" textLength="22.62" lengthAdjust="spacingAndGlyphs" font-size="9.6">[0.47,</text>
<text x="453.57" y="1344.85" textLength="20.98" lengthAdjust="spacingAndGlyphs" font-size="9.6">0.77]</text>
<text x="490.16" y="1344.85" textLength="17.00" lengthAdjust="spacingAndGlyphs" font-size="9.6">3.52</text>
<text x="1.84" y="1362.80" textLength="73.51" lengthAdjust="spacingAndGlyphs">Ruiz–Tovar, 2019</text>
<rect x="352.78" y="1358.80" width="28.84" height="1.2" fill="#58739a"/>
<rect x="361.85" y="1354.05" width="10.71" height="10.71" fill="#1a476f"/>
<text x="397.97" y="1362.80" textLength="18.16" lengthAdjust="spacingAndGlyphs" font-size="9.6">0.90</text>
<text x="424.67" y="1362.80" textLength="22.62" lengthAdjust="spacingAndGlyphs" font-size="9.6">[0.82,</text>
<text x="453.57" y="1362.80" textLength="20.98" lengthAdjust="spacingAndGlyphs" font-size="9.6">0.98]</text>
<text x="490.16" y="1362.80" textLength="17.00" lengthAdjust="spacingAndGlyphs" font-size="9.6">4.08</text>
<text x="2.13" y="1380.75" textLength="63.11" lengthAdjust="spacingAndGlyphs">Carvalho, 2020</text>
<rect x="331.90" y="1376.75" width="39.28" height="1.2" fill="#58739a"/>
<rect x="346.35" y="1372.16" width="10.39" height="10.39" fill="#1a476f"/>
<text x="397.97" y="1380.75" textLength="18.16" lengthAdjust="spacingAndGlyphs" font-size="9.6">0.81</text>
<text x="424.67" y="1380.75" textLength="22.62" lengthAdjust="spacingAndGlyphs" font-size="9.6">[0.70,</text>
<text x="453.57" y="1380.75" textLength="20.98" lengthAdjust="spacingAndGlyphs" font-size="9.6">0.92]</text>
<text x="490.16" y="1380.75" textLength="17.00" lengthAdjust="spacingAndGlyphs" font-size="9.6">3.84</text>
<text x="1.81" y="1398.70" textLength="64.48" lengthAdjust="spacingAndGlyphs">Heterogeneity:</text>
<text x="67.71" y="1398.70" textLength="3.07" lengthAdjust="spacingAndGlyphs" font-style="italic">I</text>
<text x="71.12" y="1392.60" textLength="3.14" lengthAdjust="spacingAndGlyphs" font-size="6.6">2</text>
<text x="74.89" y="1398.70" textLength="6.55" lengthAdjust="spacingAndGlyphs">=</text>
<text x="83.89" y="1398.70" textLength="28.87" lengthAdjust="spacingAndGlyphs">73.8%</text>
<polygon points="337.62,1395.30 351.54,1386.30 365.46,1395.30 351.54,1404.30" fill="#90353b"/>
<text x="397.97" y="1398.70" textLength="18.16" lengthAdjust="spacingAndGlyphs" font-size="9.6">0.81</text>
<text x="424.67" y="1398.70" textLength="22.62" lengthAdjust="spacingAndGlyphs" font-size="9.6">[0.73,</text>
<text x="453.57" y="1398.70" textLength="20.98" lengthAdjust="spacingAndGlyphs" font-size="9.6">0.89]</text>
<text x="2.18" y="1450.80" textLength="29.61" lengthAdjust="spacingAndGlyphs">Overall</text>
<polygon points="318.48,1447.40 328.92,1438.40 339.36,1447.40 328.92,1456.40" fill="#55752f"/>
<text x="397.97" y="1450.80" textLength="18.16" lengthAdjust="spacingAndGlyphs" font-size="9.6">0.68</text>
<text x="424.67" y="1450.80" textLength="22.62" lengthAdjust="spacingAndGlyphs" font-size="9.6">[0.62,</text>
<text x="453.57" y="1450.80" textLength="20.98" lengthAdjust="spacingAndGlyphs" font-size="9.6">0.74]</text>
<text x="1.81" y="1468.75" textLength="64.48" lengthAdjust="spacingAndGlyphs">Heterogeneity:</text>
<text x="67.71" y="1468.75" textLength="3.07" lengthAdjust="spacingAndGlyphs" font-style="italic">I</text>
<text x="71.12" y="1462.65" textLength="3.14" lengthAdjust="spacingAndGlyphs" font-size="6.6">2</text>
<text x="74.89" y="1468.75" textLength="6.55" lengthAdjust="spacingAndGlyphs">=</text>
<text x="83.99" y="1468.75" textLength="28.77" lengthAdjust="spacingAndGlyphs">89.9%</text>
<text x="2.41" y="1509.35" textLength="115.73" lengthAdjust="spacingAndGlyphs">Test of group differences: Q</text>
<text x="117.50" y="1511.95" textLength="3.67" lengthAdjust="spacingAndGlyphs" font-size="7.0">b</text>
<text x="123.15" y="1509.35" textLength="82.58" lengthAdjust="spacingAndGlyphs">(3) = 35.76, p &lt; 0.01</text>
<rect x="239.20" y="1514.90" width="153.90" height="1" fill="#666"/>
<rect x="244.90" y="1515.40" width="1" height="3.2" fill="#666"/>
<text x="239.08" y="1527.90" textLength="12.73" lengthAdjust="spacingAndGlyphs" font-size="9.6">0.2</text>
<rect x="279.70" y="1515.40" width="1" height="3.2" fill="#666"/>
<text x="273.88" y="1527.90" textLength="12.54" lengthAdjust="spacingAndGlyphs" font-size="9.6">0.4</text>
<rect x="314.50" y="1515.40" width="1" height="3.2" fill="#666"/>
<text x="308.68" y="1527.90" textLength="12.69" lengthAdjust="spacingAndGlyphs" font-size="9.6">0.6</text>
<rect x="349.30" y="1515.40" width="1" height="3.2" fill="#666"/>
<text x="343.48" y="1527.90" textLength="12.69" lengthAdjust="spacingAndGlyphs" font-size="9.6">0.8</text>
<rect x="384.10" y="1515.40" width="1" height="3.2" fill="#666"/>
<text x="379.58" y="1527.90" textLength="11.51" lengthAdjust="spacingAndGlyphs" font-size="9.6">1.0</text>
</svg>
</body></html>
